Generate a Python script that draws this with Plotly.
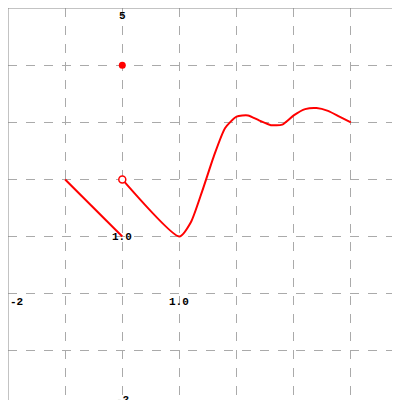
import plotly.graph_objects as go

seg1_x = [-1, 0]
seg1_y = [2, 1]
curve_x = [0, 1.0, 1.2, 1.4, 1.6, 1.8, 2.0, 2.2, 2.4, 2.6, 2.8, 3.0, 3.2, 3.4, 3.6, 3.8, 4.0]
curve_y = [2, 1.0, 1.25, 1.8, 2.4, 2.9, 3.1, 3.12, 3.03, 2.95, 2.96, 3.12, 3.23, 3.25, 3.2, 3.1, 3.0]
filled_x, filled_y = [0], [4]
open_x, open_y = [0], [2]
labels = [(-2, 0, "-2", "left", "top"), (5, 0, "5", "right", "top"), (0, 5, "5", "center", "top"),
          (0, -2, "-2", "center", "bottom"), (1, 0, "1.0", "center", "top"), (0, 1, "1.0", "center", "middle")]

fig = go.Figure()
red = "#ff0000"
fig.add_trace(go.Scatter(x=seg1_x, y=seg1_y, mode="lines", line=dict(color=red, width=2)))
fig.add_trace(go.Scatter(x=curve_x, y=curve_y, mode="lines", line=dict(color=red, width=2, shape="spline", smoothing=0.6)))
fig.add_trace(go.Scatter(x=filled_x, y=filled_y, mode="markers", marker=dict(color=red, size=7)))
fig.add_trace(go.Scatter(x=open_x, y=open_y, mode="markers", marker=dict(color="white", size=7, line=dict(color=red, width=1.5))))
for lx, ly, t, xa, ya in labels:
    fig.add_annotation(x=lx, y=ly, text="<b>%s</b>" % t, showarrow=False, xanchor=xa, yanchor=ya,
                       font=dict(family="Liberation Mono", size=11, color="black"))
ax = dict(range=[-2, 5], dtick=1, showgrid=True, gridcolor="#aaaaaa", griddash="dash", gridwidth=1,
          zeroline=False, showticklabels=False, showline=False)
fig.update_layout(width=400, height=400, margin=dict(l=0, r=0, t=0, b=0, autoexpand=False), showlegend=False,
                  plot_bgcolor="white", paper_bgcolor="white", xaxis=ax, yaxis=ax)
fig.add_shape(type="rect", xref="paper", yref="paper", x0=0, y0=0, x1=1, y1=1, line=dict(color="#888", width=1))
fig.write_html("out.html")
